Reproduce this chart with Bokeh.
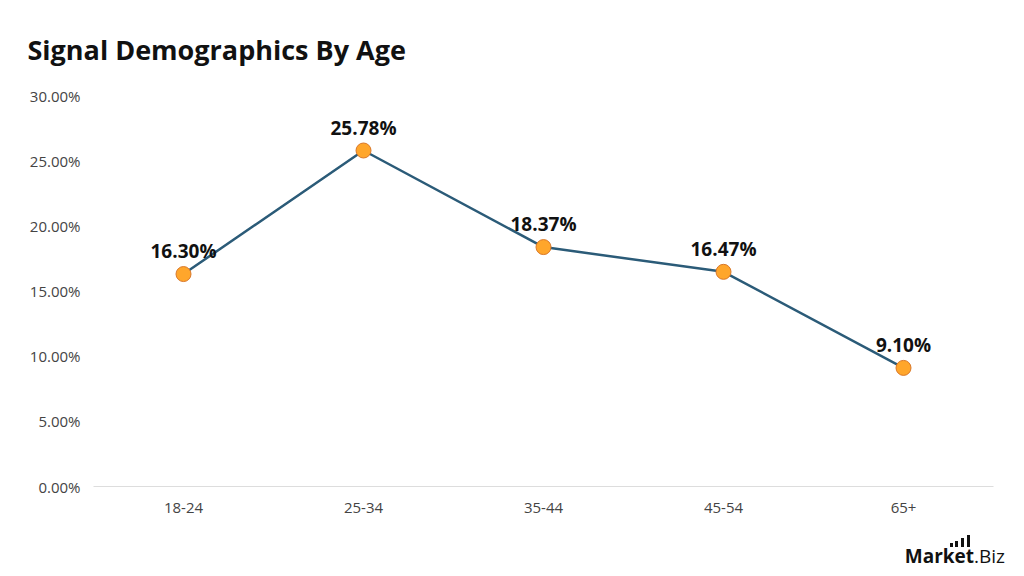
from bokeh.plotting import figure
from bokeh.models import ColumnDataSource, FixedTicker, PrintfTickFormatter, Range1d, FactorRange, Div
from bokeh.layouts import column
from bokeh.core.properties import value
from bokeh.embed import file_html
from bokeh.resources import INLINE

ages = ["18-24", "25-34", "35-44", "45-54", "65+"]
shares = [16.30, 25.78, 18.37, 16.47, 9.10]
labels = ["16.30%", "25.78%", "18.37%", "16.47%", "9.10%"]
y_ticks = [0, 5, 10, 15, 20, 25, 30]

FONT = "Open Sans"

src = ColumnDataSource(dict(x=ages, y=shares, lab=labels))

p = figure(width=1024, height=530, x_range=FactorRange(*ages, range_padding=0),
           y_range=Range1d(0, 30), output_backend="svg", toolbar_location=None,
           min_border_left=93, min_border_right=31, min_border_top=95, min_border_bottom=44,
           title="Signal Demographics By Age")
p.outline_line_color = None
p.background_fill_color = "white"
p.border_fill_color = "white"
p.xgrid.grid_line_color = None
p.ygrid.grid_line_color = None

p.title.align = "left"
p.title.offset = 27 - 93
p.title.standoff = 56
p.title.text_font = FONT
p.title.text_font_style = "bold"
p.title.text_font_size = "27px"
p.title.text_color = "#111111"

p.line("x", "y", source=src, line_color="#2B5B78", line_width=2.5)
p.scatter("x", "y", source=src, size=15, fill_color="#FFA62B", line_color="#D9782A", line_width=1)
p.text("x", "y", text="lab", source=src, text_align="center", text_baseline="bottom",
       y_offset=-10, text_font=value(FONT), text_font_style="bold", text_font_size="19px",
       text_color="#111111")

p.yaxis.ticker = FixedTicker(ticks=y_ticks)
p.yaxis.formatter = PrintfTickFormatter(format="%.2f%%")
p.yaxis.axis_line_color = None
p.yaxis.major_tick_line_color = None
p.yaxis.minor_tick_line_color = None
p.yaxis.major_label_text_font = FONT
p.yaxis.major_label_text_font_size = "15px"
p.yaxis.major_label_text_color = "#444444"
p.yaxis.major_label_standoff = 7

p.xaxis.axis_line_color = "#DDDDDD"
p.xaxis.major_tick_line_color = None
p.xaxis.minor_tick_line_color = None
p.xaxis.major_label_text_font = FONT
p.xaxis.major_label_text_font_size = "15px"
p.xaxis.major_label_text_color = "#444444"
p.xaxis.major_label_standoff = 10

bars = "".join(
    f'<span style="position:absolute;left:{l}px;top:{t}px;width:3px;height:{h}px;background:#111"></span>'
    for l, t, h in [(950, 13, 4), (955, 11, 6), (961, 8, 9), (967, 5, 12)]
)
logo = Div(text=f'<div style="position:relative;width:1024px;height:46px">{bars}'
                f'<div style="position:absolute;right:19px;top:14px;line-height:24px">'
                f'<span style="font-weight:bold">Market</span>.Biz</div></div>',
           width=1024, height=46, margin=0,
           styles={"font-family": "Open Sans", "font-size": "19px", "color": "#111111",
                   "background": "white"})

layout = column(p, logo, spacing=0)
open("out.html", "w").write(file_html(layout, INLINE))
